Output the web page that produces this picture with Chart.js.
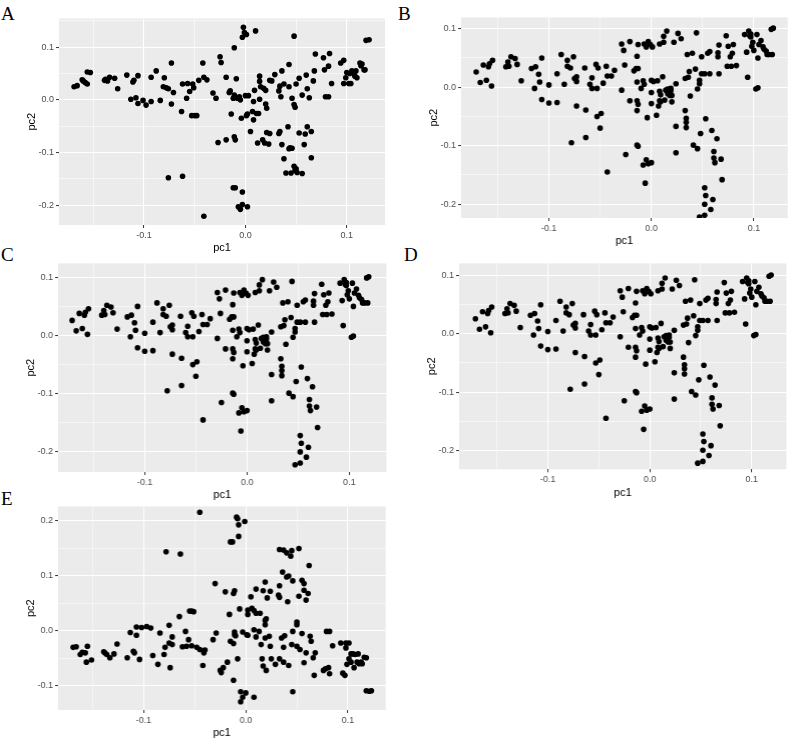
<!DOCTYPE html>
<html>
<head>
<meta charset="utf-8">
<script src="https://cdn.jsdelivr.net/npm/chart.js@4"></script>
<style>
  html, body { margin:0; padding:0; background:#fff; overflow:hidden; }
  body { width:791px; height:741px; position:relative; }
  .panel { position:absolute; }
  .tag { position:absolute; font-family:"Liberation Serif","DejaVu Serif",serif; font-size:19px; line-height:19px; color:#000; }
</style>
</head>
<body>
<div class="tag" style="left:1px;top:4px">A</div>
<div class="tag" style="left:398px;top:4px">B</div>
<div class="tag" style="left:1px;top:245px">C</div>
<div class="tag" style="left:404px;top:245px">D</div>
<div class="tag" style="left:1px;top:489px">E</div>

<div class="panel" id="pA"><canvas id="cA"></canvas></div>
<div class="panel" id="pB"><canvas id="cB"></canvas></div>
<div class="panel" id="pC"><canvas id="cC"></canvas></div>
<div class="panel" id="pD"><canvas id="cD"></canvas></div>
<div class="panel" id="pE"><canvas id="cE"></canvas></div>

<script>
// pc1/pc2 scores
const scoresA = [
  [-0.169,0.025],[-0.166,0.027],[-0.161,0.038],[-0.160,0.036],[-0.158,0.033],[-0.156,0.030],[-0.156,0.053],[-0.153,0.052],
  [-0.139,0.037],[-0.138,0.039],[-0.136,0.036],[-0.134,0.043],[-0.129,0.041],[-0.126,0.021],
  [-0.117,0.047],[-0.113,0.001],[-0.111,0.034],[-0.110,0.037],[-0.108,0.004],[-0.106,-0.007],[-0.106,0.046],[-0.101,-0.001],
  [-0.098,-0.010],[-0.093,-0.003],[-0.093,0.043],[-0.088,0.055],[-0.084,-0.001],[-0.080,0.042],[-0.081,0.025],[-0.078,0.023],
  [-0.076,0.021],[-0.073,0.070],[-0.073,-0.008],[-0.071,0.014],[-0.076,-0.148],[-0.063,-0.022],[-0.062,-0.145],[-0.062,0.030],
  [-0.058,0.003],[-0.057,0.031],[-0.055,0.016],[-0.053,-0.030],[-0.052,0.030],[-0.051,0.023],[-0.050,-0.030],[-0.048,-0.030],
  [-0.046,0.037],[-0.042,0.070],[-0.041,0.043],[-0.038,0.038],[-0.041,-0.221],[-0.032,0.013],[-0.029,0.003],[-0.027,-0.081],
  [-0.025,0.082],[-0.024,0.071],[-0.019,0.043],[-0.019,-0.076],[-0.016,0.014],[-0.015,0.017],[-0.014,-0.027],[-0.012,0.003],
  [-0.011,0.099],[-0.011,-0.070],[-0.010,-0.076],[-0.012,-0.167],[-0.010,-0.167],[-0.009,0.040],[-0.011,0.009],[-0.008,0.003],
  [-0.006,0.006],[-0.005,0.000],[-0.005,-0.208],[-0.007,-0.203],[-0.004,-0.035],[-0.003,0.119],[-0.002,0.138],[-0.001,0.128],
  [0.001,0.124],[-0.003,-0.175],[-0.003,-0.199],[0.000,0.008],[0.001,-0.030],[0.002,-0.203],[0.003,0.008],[0.005,-0.060],
  [0.002,-0.027],[0.007,-0.022],[0.008,-0.003],[0.008,-0.038],[0.009,0.018],[0.010,0.131],[0.011,-0.026],[0.012,-0.082],
  [0.013,-0.026],[0.014,0.001],[0.014,0.035],[0.014,0.045],[0.015,0.025],[0.017,-0.076],[0.019,-0.082],[0.018,0.022],
  [0.020,-0.008],[0.020,0.018],[0.021,-0.016],[0.021,-0.062],[0.024,-0.064],[0.023,-0.084],[0.024,0.037],[0.026,0.036],
  [0.029,0.048],[0.033,-0.064],[0.034,-0.060],[0.033,0.017],[0.034,0.026],[0.035,0.006],[0.036,0.055],[0.036,-0.085],
  [0.038,-0.112],[0.038,0.030],[0.040,-0.139],[0.042,-0.051],[0.043,0.067],[0.044,-0.091],[0.043,0.025],[0.045,-0.139],
  [0.043,-0.093],[0.046,0.003],[0.046,-0.092],[0.048,0.121],[0.048,-0.009],[0.049,-0.014],[0.048,-0.126],[0.050,0.030],
  [0.049,-0.134],[0.051,-0.138],[0.050,-0.131],[0.053,0.041],[0.053,-0.063],[0.056,0.009],[0.056,-0.140],[0.058,-0.085],
  [0.060,0.047],[0.059,-0.065],[0.061,0.021],[0.061,-0.051],[0.063,0.004],[0.065,-0.060],[0.065,-0.110],[0.068,0.055],
  [0.067,0.036],[0.069,0.087],[0.077,0.080],[0.078,0.057],[0.079,0.006],[0.082,0.006],[0.082,0.064],[0.083,0.088],
  [0.085,0.031],[0.094,0.070],[0.097,0.075],[0.097,0.031],[0.099,0.042],[0.100,0.052],[0.102,0.031],[0.104,0.031],
  [0.103,0.050],[0.105,0.055],[0.107,0.050],[0.108,0.045],[0.110,0.042],[0.113,0.070],[0.114,0.065],[0.115,0.068],
  [0.117,0.057],[0.118,0.057],[0.119,0.113],[0.122,0.114],[0.109,0.055]
];

// B, C and D show the same cloud
const scoresB = [
  [-0.171,0.026],[-0.167,0.008],[-0.164,0.038],[-0.161,0.012],[-0.159,0.035],[-0.158,0.040],[-0.155,0.046],[-0.156,0.002],
  [-0.142,0.035],[-0.140,0.043],[-0.139,0.036],[-0.137,0.052],[-0.133,0.049],[-0.131,0.039],[-0.127,0.011],
  [-0.117,0.032],[-0.114,-0.002],[-0.113,0.035],[-0.110,0.022],[-0.109,0.009],[-0.107,0.050],[-0.107,-0.021],[-0.100,0.004],
  [-0.100,-0.027],[-0.092,0.023],[-0.092,-0.026],[-0.088,0.056],[-0.085,0.005],[-0.082,0.046],[-0.082,0.036],[-0.079,0.033],
  [-0.078,-0.095],[-0.076,0.052],[-0.075,0.015],[-0.073,0.018],[-0.073,0.010],[-0.073,-0.032],[-0.065,0.033],[-0.064,-0.039],
  [-0.064,-0.086],[-0.060,0.005],[-0.058,-0.002],[-0.058,0.016],[-0.054,0.039],[-0.052,0.033],[-0.053,-0.002],[-0.053,-0.050],
  [-0.050,-0.070],[-0.049,-0.045],[-0.047,0.007],[-0.044,0.036],[-0.043,0.019],[-0.039,0.019],[-0.043,-0.145],
  [-0.036,0.029],[-0.029,-0.005],[-0.029,0.074],[-0.027,0.063],[-0.026,0.038],[-0.025,-0.115],[-0.021,0.078],[-0.021,-0.023],
  [-0.017,0.028],[-0.015,0.032],[-0.014,-0.099],[-0.013,-0.101],[-0.014,0.053],[-0.013,0.073],[-0.014,0.009],[-0.013,0.032],
  [-0.014,-0.023],[-0.014,-0.040],[-0.013,-0.029],[-0.010,-0.002],[-0.008,0.011],[-0.007,0.074],[-0.007,0.005],[-0.008,-0.133],
  [-0.005,-0.124],[-0.005,0.069],[-0.006,-0.164],[-0.004,-0.052],[-0.003,0.078],[-0.003,-0.131],[-0.001,0.073],[0.000,-0.129],
  [0.000,0.012],[0.000,-0.028],[0.000,-0.009],[0.001,0.069],[0.002,0.010],[0.005,-0.048],[0.006,0.011],[0.007,-0.032],
  [0.008,0.074],[0.008,-0.007],[0.008,-0.023],[0.009,-0.013],[0.009,-0.025],[0.011,0.018],[0.012,0.077],[0.012,0.087],
  [0.013,-0.022],[0.014,-0.005],[0.015,0.096],[0.016,-0.011],[0.016,-0.003],[0.018,-0.014],[0.019,-0.002],[0.019,-0.006],
  [0.020,-0.025],[0.020,-0.014],[0.022,0.077],[0.024,0.006],[0.024,-0.067],[0.024,-0.112],[0.026,0.092],[0.029,0.083],
  [0.033,0.015],[0.033,-0.040],[0.034,-0.053],[0.034,-0.060],[0.034,-0.069],[0.035,0.056],[0.036,0.017],[0.037,0.027],
  [0.038,-0.015],[0.040,0.058],[0.041,-0.099],[0.043,0.031],[0.044,0.093],[0.045,-0.003],[0.045,-0.105],[0.047,0.006],
  [0.047,0.012],[0.048,-0.079],[0.049,0.052],[0.049,0.023],[0.047,-0.222],[0.052,-0.219],[0.052,0.023],[0.052,-0.172],
  [0.053,-0.185],[0.052,-0.200],[0.053,-0.054],[0.055,0.058],[0.057,0.061],[0.057,0.023],[0.058,-0.209],[0.059,-0.074],
  [0.060,-0.192],[0.061,-0.110],[0.061,-0.121],[0.062,-0.129],[0.064,-0.088],[0.065,0.052],[0.066,0.072],[0.066,0.023],
  [0.065,0.059],[0.068,-0.123],[0.069,-0.158],[0.073,0.088],[0.074,0.036],[0.075,0.070],[0.077,0.052],[0.078,0.036],
  [0.079,0.058],[0.080,0.073],[0.083,0.037],[0.091,0.090],[0.094,0.017],[0.093,0.060],[0.095,0.096],[0.096,0.088],
  [0.097,0.091],[0.098,0.070],[0.099,0.077],[0.100,0.063],[0.102,-0.003],[0.104,-0.001],[0.103,0.090],[0.104,0.050],
  [0.105,0.073],[0.107,0.080],[0.109,0.069],[0.110,0.065],[0.112,0.062],[0.113,0.056],[0.115,0.056],[0.117,0.099],
  [0.119,0.101],[0.118,0.056],[0.097,0.086]
];

const scoresE = [
  [-0.169,-0.030],[-0.166,-0.029],[-0.162,-0.043],[-0.160,-0.039],[-0.157,-0.040],[-0.156,-0.057],[-0.155,-0.028],[-0.151,-0.053],
  [-0.139,-0.038],[-0.138,-0.040],[-0.136,-0.043],[-0.133,-0.049],[-0.129,-0.042],[-0.126,-0.024],
  [-0.116,-0.049],[-0.113,-0.003],[-0.110,-0.037],[-0.109,-0.040],[-0.107,-0.008],[-0.107,0.007],[-0.104,-0.052],[-0.102,0.006],
  [-0.097,0.008],[-0.093,0.005],[-0.091,-0.045],[-0.086,-0.061],[-0.084,-0.004],[-0.079,-0.030],[-0.080,-0.043],[-0.078,0.144],
  [-0.075,0.010],[-0.075,-0.022],[-0.074,-0.067],[-0.072,-0.011],[-0.072,-0.025],[-0.065,0.026],[-0.064,0.140],[-0.062,-0.029],
  [-0.059,-0.001],[-0.058,-0.028],[-0.056,-0.016],[-0.055,0.036],[-0.053,0.036],[-0.051,0.035],[-0.053,-0.027],[-0.048,-0.030],
  [-0.045,-0.034],[-0.045,0.216],[-0.041,-0.040],[-0.040,-0.035],[-0.042,-0.063],[-0.032,-0.016],[-0.030,0.086],[-0.029,-0.004],
  [-0.025,-0.072],[-0.024,-0.076],[-0.022,-0.067],[-0.020,0.071],[-0.018,-0.057],[-0.016,0.030],[-0.015,-0.019],[-0.015,0.162],
  [-0.013,0.162],[-0.012,-0.090],[-0.012,-0.023],[-0.012,0.068],[-0.011,0.073],[-0.011,-0.002],[-0.011,-0.007],[-0.010,-0.009],
  [-0.008,-0.051],[-0.009,0.207],[-0.008,0.204],[-0.007,0.193],[-0.007,0.172],[-0.006,0.040],[-0.005,-0.111],[-0.005,-0.129],
  [-0.003,-0.002],[-0.003,-0.121],[-0.001,0.199],[0.000,-0.113],[0.001,-0.007],[0.002,-0.008],[0.002,0.038],[0.002,0.030],
  [0.005,0.062],[0.006,0.041],[0.008,-0.121],[0.008,0.037],[0.008,0.002],[0.010,0.076],[0.010,0.032],[0.010,-0.011],
  [0.013,-0.001],[0.014,0.032],[0.015,-0.025],[0.016,-0.051],[0.017,0.073],[0.017,-0.064],[0.019,0.089],[0.019,0.011],
  [0.019,0.019],[0.020,0.022],[0.019,-0.013],[0.020,-0.072],[0.021,0.060],[0.023,-0.010],[0.024,0.072],[0.024,-0.028],
  [0.025,-0.051],[0.029,-0.061],[0.032,0.065],[0.033,0.061],[0.033,0.082],[0.033,0.148],[0.033,-0.051],[0.035,-0.013],
  [0.036,0.107],[0.037,-0.057],[0.037,-0.030],[0.037,0.147],[0.038,-0.009],[0.040,0.142],[0.040,0.098],[0.041,0.053],
  [0.042,-0.063],[0.042,0.100],[0.044,0.136],[0.045,0.146],[0.045,-0.025],[0.046,-0.001],[0.046,-0.111],[0.046,0.091],
  [0.050,0.016],[0.050,0.011],[0.050,-0.028],[0.052,0.150],[0.052,0.063],[0.053,-0.034],[0.055,-0.005],[0.055,0.092],
  [0.057,0.074],[0.057,0.086],[0.057,-0.058],[0.059,0.056],[0.059,-0.040],[0.061,0.068],[0.062,0.119],[0.063,-0.010],
  [0.064,-0.019],[0.066,-0.049],[0.067,-0.081],[0.068,-0.040],[0.076,-0.072],[0.078,-0.069],[0.079,-0.001],[0.082,-0.001],
  [0.081,-0.067],[0.082,-0.078],[0.085,-0.027],[0.093,-0.022],[0.095,-0.077],[0.097,-0.081],[0.098,-0.031],[0.098,-0.022],
  [0.099,-0.061],[0.101,-0.022],[0.101,-0.051],[0.103,-0.042],[0.103,-0.057],[0.105,-0.042],[0.106,-0.067],[0.107,-0.043],
  [0.109,-0.057],[0.110,-0.042],[0.111,-0.060],[0.113,-0.057],[0.114,-0.060],[0.116,-0.048],[0.118,-0.049],[0.118,-0.109],
  [0.121,-0.110],[0.123,-0.109]
];

// labelled ticks
const pc1Ticks = [-0.1, 0.0, 0.1];
const pc2TicksTop = [-0.2, -0.1, 0.0, 0.1];
const pc2TicksE = [-0.1, 0.0, 0.1, 0.2];

// plot area of each panel in page pixels, plus axis limits
const panels = [
  {id:'A', data:scoresA, yt:pc2TicksTop, box:[59,17,386,225],  x:[-0.1839,0.1377], y:[-0.2377,0.1547]},
  {id:'B', data:scoresB, yt:pc2TicksTop, box:[461,16,787.7,218], x:[-0.1857,0.1331], y:[-0.2236,0.1194]},
  {id:'C', data:scoresB, yt:pc2TicksTop, box:[58.3,261.7,386.7,471.7], x:[-0.1847,0.1363], y:[-0.2345,0.1239]},
  {id:'D', data:scoresB, yt:pc2TicksTop, box:[459.3,261.7,786.7,469], x:[-0.187,0.134], y:[-0.2326,0.121]},
  {id:'E', data:scoresE, yt:pc2TicksE, box:[58.3,505,386,710], x:[-0.1837,0.137], y:[-0.1441,0.2266]}
];

const LEFT = 38, BOTTOM = 31, TOP = 6, RIGHT = 3;
const FONT = '"Liberation Sans", Arial, Helvetica, sans-serif';

const isMajor = v => Math.abs(v * 10 - Math.round(v * 10)) < 1e-6;

// majors plus the halfway minors, kept inside the range
function gridValues(major, lo, hi) {
  const out = [];
  const step = major[1] - major[0];
  for (let i = -1; i < major.length; i++) {
    const m = (i < 0 ? major[0] - step : major[i]);
    if (i >= 0) out.push(m);
    out.push(m + step / 2);
  }
  return out.filter(v => v >= lo && v <= hi);
}

const panelBg = {
  id: 'panelBg',
  beforeDraw(chart) {
    const a = chart.chartArea, ctx = chart.ctx;
    ctx.save();
    ctx.fillStyle = '#EBEBEB';
    ctx.fillRect(a.left, a.top, a.right - a.left, a.bottom - a.top);
    ctx.restore();
  }
};

function axis(ticks, range, title, isY) {
  return {
    type: 'linear',
    min: range[0],
    max: range[1],
    afterBuildTicks: s => { s.ticks = gridValues(ticks, range[0], range[1]).map(v => ({value: v})); },
    afterFit: s => { if (isY) s.width = LEFT; else s.height = BOTTOM; },
    border: {display: false},
    grid: {
      color: '#FFFFFF',
      lineWidth: c => isMajor(c.tick.value) ? 1.1 : 0.55,
      tickColor: c => isMajor(c.tick.value) ? '#333333' : 'rgba(0,0,0,0)',
      tickLength: 3,
      tickWidth: 1
    },
    ticks: {
      autoSkip: false,
      maxRotation: 0,
      padding: 2,
      color: '#4D4D4D',
      font: {family: FONT, size: 9},
      callback: v => isMajor(v) ? v.toFixed(1) : ''
    },
    title: {
      display: true,
      text: title,
      color: '#000',
      font: {family: FONT, size: 11},
      padding: isY ? {top: 4, bottom: 0} : {top: 0, bottom: 1}
    }
  };
}

panels.forEach(p => {
  const [l, t, r, b] = p.box;
  const div = document.getElementById('p' + p.id);
  div.style.left = (l - LEFT) + 'px';
  div.style.top = (t - TOP) + 'px';
  div.style.width = (r - l + LEFT + RIGHT) + 'px';
  div.style.height = (b - t + TOP + BOTTOM) + 'px';

  new Chart(document.getElementById('c' + p.id), {
    type: 'scatter',
    data: {
      datasets: [{
        data: p.data.map(d => ({x: d[0], y: d[1]})),
        backgroundColor: '#000',
        borderWidth: 0,
        pointRadius: 2.8
      }]
    },
    options: {
      responsive: true,
      maintainAspectRatio: false,
      animation: false,
      layout: {padding: {left: 0, top: TOP, right: RIGHT, bottom: 0}},
      plugins: {legend: {display: false}, tooltip: {enabled: false}},
      scales: {
        x: axis(pc1Ticks, p.x, 'pc1', false),
        y: axis(p.yt, p.y, 'pc2', true)
      }
    },
    plugins: [panelBg]
  });
});
</script>
</body>
</html>
